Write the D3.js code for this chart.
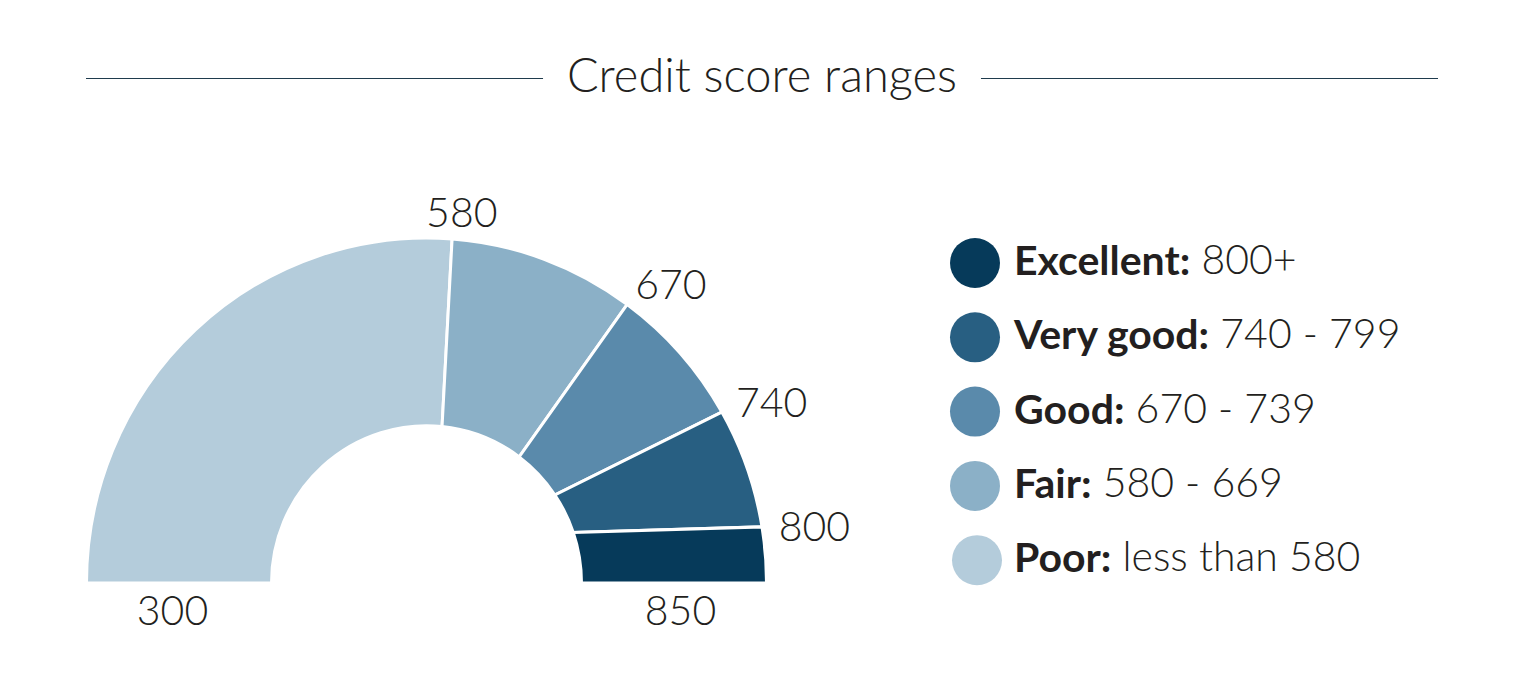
<!DOCTYPE html>
<html><head><meta charset="utf-8">
<script src="https://cdn.jsdelivr.net/npm/d3@7"></script>
<style>body{margin:0;background:#fff;} svg{display:block;}</style>
</head><body>
<svg id="chart" width="1523" height="686"></svg>
<script>
const title = "Credit score ranges";
const categories = ["Poor", "Fair", "Good", "Very good", "Excellent"];
const rangeTexts = ["less than 580", "580 - 669", "670 - 739", "740 - 799", "800+"];
// share of the half circle each band takes, on the outer and the inner edge
const outerShares = [52.4, 17.7, 13.4, 11.3, 5.2];
const innerShares = [53.2, 17.2, 10.7, 8.5, 10.4];
const boundaryLabels = ["300", "580", "670", "740", "800", "850"];
const colors = ["#b4ccdb", "#8bb0c7", "#5a8aab", "#285f82", "#063a5a"];

const svg = d3.select("#chart");
const font = "Lato, 'Open Sans', sans-serif";
const ink = "#231f20";

// Title with rules
const tg = svg.append("g");
const t = tg.append("text").attr("x", 762).attr("y", 80).attr("text-anchor", "middle")
  .attr("dominant-baseline", "middle").attr("font-family", font).attr("font-weight", 300)
  .attr("font-size", 47).attr("fill", ink).text(title);
const tw = t.node().getComputedTextLength();
tg.append("line").attr("x1", 86).attr("x2", 762 - tw / 2 - 24).attr("y1", 78.5).attr("y2", 78.5)
  .attr("stroke", "#1f3b4d").attr("stroke-width", 1.2);
tg.append("line").attr("x1", 762 + tw / 2 + 24).attr("x2", 1438).attr("y1", 78.5).attr("y2", 78.5)
  .attr("stroke", "#1f3b4d").attr("stroke-width", 1.2);

// Gauge
const cx = 426.5, cy = 583, rIn = 155, rOut = 340, yStretch = 1.015;
const pie = d3.pie().sort(null).startAngle(-Math.PI / 2).endAngle(Math.PI / 2);
const outerArcs = pie(outerShares);
const innerArcs = pie(innerShares);
const bands = outerArcs.map((o, i) => ({ o, n: innerArcs[i], i }));

// d3 angle convention: 0 at top, clockwise; convert to canvas angle
const toCanvas = a => a - Math.PI / 2;
function bandPath(b) {
  const p = d3.path();
  const a0 = toCanvas(b.o.startAngle), a1 = toCanvas(b.o.endAngle);
  const b0 = toCanvas(b.n.startAngle), b1 = toCanvas(b.n.endAngle);
  p.moveTo(rOut * Math.cos(a0), rOut * Math.sin(a0));
  p.arc(0, 0, rOut, a0, a1, false);
  p.lineTo(rIn * Math.cos(b1), rIn * Math.sin(b1));
  p.arc(0, 0, rIn, b1, b0, true);
  p.closePath();
  return p.toString();
}
const g = svg.append("g").attr("transform", `translate(${cx},${cy}) scale(1,${yStretch})`);
g.selectAll("path").data(bands).join("path")
  .attr("d", bandPath).attr("fill", d => colors[d.i])
  .attr("stroke", "#fff").attr("stroke-width", 3).attr("stroke-linejoin", "miter");

// Boundary labels
const lg = svg.append("g").attr("transform", `translate(${cx},${cy})`);
const labelR = rOut + 22;
boundaryLabels.forEach((lab, i) => {
  let x, y;
  const txt = lg.append("text").attr("font-family", font).attr("font-weight", 300)
    .attr("font-size", 41).attr("fill", ink).attr("dominant-baseline", "middle").text(lab);
  if (i === 0 || i === boundaryLabels.length - 1) {
    const mid = 254;
    x = (i === 0 ? -mid : mid);
    y = 32;
    txt.attr("text-anchor", "middle");
  } else {
    const a = outerArcs[i].startAngle;
    const s = Math.sin(a);
    const px = labelR * s, py = -labelR * Math.cos(a) * yStretch;
    y = py + 8 * s * s;
    if (s < 0.3) { x = px + 8; txt.attr("text-anchor", "middle"); }
    else { x = px - 5; txt.attr("text-anchor", "start"); }
  }
  txt.attr("x", x).attr("y", y);
});

// Legend
const legX = 975, legY0 = 263, legStep = 74.3;
const order = d3.range(categories.length).reverse();
const leg = svg.append("g");
order.forEach((ci, k) => {
  const y = legY0 + k * legStep;
  leg.append("circle").attr("cx", legX + (ci === 0 ? 2 : 0)).attr("cy", y).attr("r", 25).attr("fill", colors[ci]);
  const tx = leg.append("text").attr("x", 1014).attr("y", y + 1).attr("dominant-baseline", "middle")
    .attr("font-family", font).attr("font-size", 41).attr("fill", ink);
  tx.append("tspan").attr("font-weight", 700).text(categories[ci] + ":");
  tx.append("tspan").attr("font-weight", 300).text(" " + rangeTexts[ci]);
});
</script>
</body></html>
